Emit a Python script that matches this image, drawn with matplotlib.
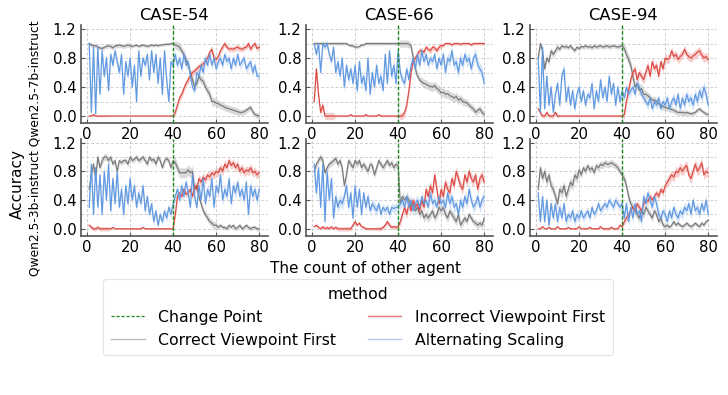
import numpy as np
import matplotlib
matplotlib.use("Agg")
import matplotlib.pyplot as plt
from matplotlib.lines import Line2D
from matplotlib.ticker import MultipleLocator

plt.rcParams['font.family'] = ['DejaVu Sans']

x_vals = np.arange(1, 81)
change_point = 40
cases = ["CASE-54", "CASE-66", "CASE-94"]
models = ["Qwen2.5-7b-instruct", "Qwen2.5-3b-instruct"]
methods = ["Correct Viewpoint First", "Incorrect Viewpoint First", "Alternating Scaling"]

# ---------------- Qwen2.5-7b-instruct ----------------
correct_7b_54 = [1.0,0.98,0.97,0.97,0.95,0.94,0.93,0.95,0.96,0.97,0.96,0.94,0.97,0.97,0.98,0.97,0.96,0.97,0.98,0.97,
                 0.96,0.97,0.98,0.96,0.97,0.98,0.97,0.96,0.97,0.98,0.97,0.98,0.97,0.98,0.98,0.99,0.99,0.99,1.0,1.0,
                 0.98,0.97,0.95,0.9,0.85,0.78,0.7,0.6,0.5,0.4,0.45,0.55,0.5,0.48,0.4,0.35,0.3,0.2,0.2,0.18,
                 0.17,0.15,0.14,0.12,0.11,0.1,0.09,0.08,0.07,0.06,0.05,0.05,0.06,0.08,0.1,0.12,0.06,0.02,0.01,0.0]
incorrect_7b_54 = [0.0,0.0,0.02,0.0,0.0,0.0,0.0,0.0,0.0,0.0,0.0,0.0,0.0,0.0,0.0,0.0,0.0,0.0,0.0,0.0,
                   0.0,0.0,0.0,0.0,0.0,0.0,0.0,0.0,0.0,0.0,0.0,0.0,0.0,0.0,0.0,0.0,0.0,0.0,0.0,0.0,
                   0.05,0.15,0.25,0.3,0.38,0.45,0.5,0.55,0.6,0.62,0.65,0.68,0.7,0.72,0.75,0.8,0.88,0.92,0.8,0.78,
                   0.82,0.9,0.95,1.0,0.95,0.92,0.93,0.92,0.94,0.95,0.93,0.92,0.94,0.95,1.0,0.92,0.97,1.0,0.93,0.95]
altern_7b_54 = [1.0,0.05,0.95,0.03,0.95,0.3,0.9,0.55,0.8,0.35,0.85,0.7,0.9,0.75,0.6,0.85,0.3,0.75,0.55,0.8,
                0.4,0.7,0.2,0.9,0.55,0.8,0.7,0.85,0.5,0.9,0.6,0.85,0.45,0.8,0.3,0.9,0.5,0.2,0.75,0.7,
                0.85,0.7,0.8,0.65,0.85,0.7,0.75,0.55,0.4,0.35,0.6,0.55,0.7,0.6,0.8,0.7,0.85,0.7,0.8,0.65,
                0.75,0.8,0.7,0.85,0.75,0.8,0.65,0.8,0.7,0.85,0.7,0.75,0.8,0.65,0.7,0.75,0.6,0.7,0.55,0.55]

correct_7b_66 = [1.0,1.0,1.0,1.0,1.0,1.0,1.0,1.0,1.0,1.0,1.0,1.0,1.0,1.0,1.0,1.0,0.98,0.97,0.97,0.95,
                 0.95,0.96,0.98,0.98,1.0,1.0,1.0,1.0,1.0,1.0,1.0,1.0,1.0,1.0,1.0,1.0,1.0,1.0,1.0,1.0,
                 1.0,1.0,1.0,1.0,0.99,0.97,0.8,0.65,0.55,0.5,0.47,0.45,0.44,0.42,0.41,0.4,0.42,0.38,0.36,0.32,
                 0.33,0.3,0.31,0.28,0.27,0.25,0.27,0.22,0.24,0.2,0.19,0.18,0.15,0.12,0.1,0.05,0.08,0.1,0.05,0.02]
incorrect_7b_66 = [0.2,0.65,0.3,0.05,0.15,0.0,0.0,0.0,0.0,0.0,0.0,0.0,0.0,0.0,0.0,0.0,0.0,0.02,0.0,0.0,
                   0.0,0.0,0.0,0.0,0.02,0.0,0.0,0.0,0.0,0.0,0.02,0.0,0.0,0.0,0.0,0.0,0.0,0.0,0.0,0.0,
                   0.0,0.0,0.05,0.15,0.35,0.6,0.75,0.8,0.85,0.9,0.9,0.88,0.95,0.92,0.9,0.95,0.94,0.9,0.95,0.97,
                   0.97,1.0,1.0,1.0,0.98,1.0,1.0,1.0,0.99,1.0,1.0,1.0,1.0,0.98,1.0,1.0,1.0,1.0,1.0,1.0]
altern_7b_66 = [1.0,0.85,1.0,0.6,1.0,0.95,1.0,0.85,0.75,0.95,0.6,0.75,0.55,0.8,0.4,0.7,0.5,0.65,0.45,0.7,
                0.35,0.75,0.45,0.55,0.35,0.8,0.3,0.6,0.4,0.7,0.45,0.55,0.35,0.85,0.45,0.9,0.55,0.7,0.45,0.9,
                0.6,0.5,0.45,0.65,0.5,0.7,0.8,0.65,0.85,0.7,0.9,0.75,0.85,0.7,0.8,0.75,0.85,0.65,0.8,0.7,
                0.85,0.6,0.8,0.75,0.9,0.7,0.75,0.6,0.8,0.7,0.85,0.75,0.8,0.65,0.8,0.85,0.7,0.65,0.6,0.45]

correct_7b_94 = [0.8,1.0,0.9,0.65,0.8,0.75,0.9,0.85,0.9,0.95,0.92,0.97,0.95,0.96,0.94,0.97,0.93,0.9,0.95,0.93,
                 0.96,0.95,0.97,0.95,0.96,0.94,0.97,0.95,0.96,0.97,0.95,0.96,0.97,0.95,0.96,0.97,0.96,0.95,0.96,0.97,
                 0.93,0.85,0.78,0.7,0.55,0.4,0.45,0.35,0.38,0.3,0.3,0.28,0.25,0.22,0.22,0.2,0.17,0.15,0.13,0.12,
                 0.11,0.1,0.09,0.08,0.06,0.05,0.05,0.05,0.04,0.05,0.04,0.03,0.04,0.05,0.08,0.1,0.07,0.05,0.03,0.02]
incorrect_7b_94 = [0.1,0.05,0.0,0.0,0.05,0.0,0.0,0.0,0.05,0.0,0.0,0.0,0.0,0.0,0.0,0.0,0.0,0.0,0.0,0.0,
                   0.0,0.0,0.0,0.0,0.0,0.0,0.0,0.0,0.0,0.0,0.0,0.0,0.0,0.0,0.0,0.0,0.0,0.0,0.0,0.0,
                   0.02,0.2,0.35,0.5,0.6,0.65,0.5,0.6,0.55,0.5,0.6,0.7,0.55,0.75,0.65,0.7,0.55,0.75,0.65,0.8,
                   0.78,0.8,0.9,0.82,0.85,0.78,0.82,0.85,0.92,0.85,0.82,0.8,0.83,0.85,0.88,0.9,0.84,0.8,0.82,0.78]
altern_7b_94 = [0.8,0.05,0.95,0.1,0.55,0.15,0.4,0.05,0.3,0.45,0.15,0.55,0.65,0.2,0.4,0.15,0.35,0.1,0.3,0.4,
                0.2,0.35,0.15,0.3,0.25,0.45,0.1,0.35,0.2,0.5,0.25,0.4,0.2,0.55,0.3,0.45,0.15,0.4,0.2,0.35,
                0.25,0.4,0.3,0.35,0.4,0.3,0.45,0.4,0.3,0.25,0.2,0.15,0.25,0.1,0.2,0.15,0.25,0.1,0.2,0.15,
                0.25,0.1,0.2,0.25,0.15,0.3,0.1,0.25,0.15,0.3,0.2,0.25,0.15,0.3,0.2,0.35,0.25,0.4,0.3,0.15]

# ---------------- Qwen2.5-3b-instruct ----------------
correct_3b_54 = [0.55,0.75,0.9,0.7,1.0,0.85,0.95,1.0,1.0,0.95,1.0,0.9,0.95,0.8,0.95,0.92,0.95,0.95,0.9,1.0,
                 0.95,0.97,1.0,0.95,0.97,1.0,0.95,0.9,1.0,0.95,0.97,0.9,1.0,0.95,0.85,0.95,0.98,0.95,0.85,0.95,
                 0.92,0.85,0.78,0.78,0.78,0.78,0.82,0.78,0.8,0.55,0.6,0.45,0.35,0.25,0.2,0.15,0.1,0.08,0.05,0.05,
                 0.02,0.05,0.02,0.02,0.0,0.05,0.02,0.05,0.0,0.02,0.05,0.0,0.02,0.05,0.02,0.0,0.02,0.02,0.0,0.0]
incorrect_3b_54 = [0.05,0.02,0.0,0.0,0.02,0.0,0.0,0.0,0.0,0.0,0.0,0.02,0.0,0.0,0.0,0.0,0.0,0.0,0.0,0.0,
                   0.0,0.0,0.0,0.0,0.0,0.02,0.0,0.0,0.0,0.0,0.0,0.0,0.0,0.0,0.0,0.0,0.0,0.0,0.0,0.0,
                   0.2,0.45,0.5,0.45,0.55,0.48,0.5,0.55,0.45,0.6,0.55,0.7,0.65,0.72,0.68,0.75,0.72,0.78,0.75,0.8,
                   0.78,0.85,0.8,0.9,0.85,0.95,0.88,0.92,0.85,0.9,0.8,0.85,0.78,0.82,0.8,0.85,0.78,0.8,0.75,0.78]
altern_3b_54 = [0.3,0.9,0.2,0.85,0.3,0.75,0.2,0.8,0.4,0.9,0.25,0.7,0.35,0.8,0.3,0.55,0.2,0.6,0.35,0.7,
                0.4,0.6,0.3,0.5,0.35,0.6,0.25,0.45,0.2,0.35,0.1,0.25,0.05,0.2,0.1,0.25,0.15,0.3,0.2,0.35,
                0.45,0.55,0.4,0.6,0.45,0.65,0.5,0.3,0.75,0.45,0.3,0.6,0.4,0.7,0.35,0.55,0.45,0.7,0.3,0.6,
                0.5,0.75,0.4,0.55,0.45,0.7,0.35,0.6,0.5,0.65,0.45,0.55,0.4,0.65,0.2,0.6,0.45,0.55,0.4,0.55]

correct_3b_66 = [0.8,0.9,0.95,1.0,0.95,0.78,0.85,0.9,0.92,0.95,0.98,0.9,0.95,0.85,0.6,0.75,0.95,0.9,0.85,0.95,
                 0.9,0.95,0.85,0.9,0.85,0.8,0.9,0.88,0.75,0.85,0.95,0.9,0.85,0.9,0.95,0.88,0.92,0.85,0.9,0.88,
                 0.35,0.45,0.4,0.45,0.4,0.3,0.35,0.25,0.3,0.2,0.25,0.15,0.2,0.15,0.2,0.25,0.15,0.2,0.3,0.25,
                 0.3,0.2,0.15,0.25,0.2,0.15,0.1,0.2,0.05,0.1,0.15,0.1,0.2,0.15,0.1,0.08,0.05,0.08,0.05,0.15]
incorrect_3b_66 = [0.03,0.05,0.02,0.0,0.03,0.0,0.02,0.0,0.03,0.0,0.02,0.0,0.0,0.0,0.0,0.0,0.0,0.0,0.05,0.1,
                   0.05,0.08,0.03,0.02,0.0,0.0,0.0,0.0,0.0,0.0,0.0,0.0,0.02,0.05,0.1,0.05,0.02,0.03,0.02,0.03,
                   0.1,0.2,0.3,0.2,0.35,0.25,0.4,0.3,0.35,0.25,0.4,0.3,0.55,0.45,0.6,0.5,0.75,0.55,0.35,0.55,
                   0.45,0.65,0.55,0.5,0.7,0.6,0.8,0.7,0.6,0.55,0.75,0.65,0.8,0.7,0.65,0.75,0.55,0.7,0.75,0.65]
altern_3b_66 = [0.9,0.5,0.85,0.3,0.9,0.1,0.8,0.4,0.7,0.15,0.45,0.3,0.4,0.35,0.45,0.6,0.3,0.5,0.15,0.6,
                0.3,0.55,0.2,0.5,0.3,0.45,0.25,0.35,0.3,0.25,0.35,0.2,0.3,0.25,0.3,0.2,0.3,0.28,0.3,0.3,
                0.35,0.4,0.3,0.45,0.3,0.4,0.25,0.35,0.4,0.3,0.45,0.35,0.4,0.3,0.5,0.35,0.4,0.3,0.45,0.35,
                0.4,0.3,0.5,0.35,0.45,0.3,0.35,0.2,0.4,0.3,0.45,0.35,0.55,0.4,0.3,0.35,0.45,0.3,0.4,0.45]

correct_3b_94 = [0.55,0.85,0.7,0.8,0.65,0.75,0.6,0.55,0.45,0.35,0.55,0.5,0.6,0.45,0.55,0.65,0.6,0.75,0.7,0.82,
                 0.75,0.85,0.8,0.88,0.82,0.85,0.78,0.88,0.85,0.9,0.88,0.92,0.9,0.9,0.92,0.9,0.88,0.85,0.8,0.75,
                 0.7,0.6,0.45,0.35,0.3,0.25,0.2,0.15,0.25,0.2,0.3,0.25,0.2,0.15,0.25,0.2,0.1,0.15,0.05,0.03,
                 0.05,0.02,0.05,0.1,0.05,0.08,0.05,0.03,0.05,0.08,0.05,0.03,0.05,0.08,0.05,0.03,0.08,0.05,0.1,0.12]
incorrect_3b_94 = [0.0,0.0,0.03,0.0,0.0,0.02,0.0,0.0,0.0,0.03,0.0,0.0,0.0,0.0,0.02,0.0,0.0,0.0,0.0,0.03,
                   0.0,0.0,0.0,0.0,0.02,0.0,0.0,0.0,0.0,0.03,0.0,0.0,0.0,0.0,0.02,0.0,0.0,0.0,0.05,0.03,
                   0.1,0.15,0.2,0.25,0.3,0.25,0.35,0.3,0.25,0.35,0.4,0.38,0.45,0.4,0.45,0.5,0.45,0.55,0.5,0.6,
                   0.65,0.7,0.75,0.72,0.8,0.78,0.85,0.8,0.85,0.88,0.75,0.7,0.8,0.9,0.8,0.85,0.92,0.75,0.8,0.78]
altern_3b_94 = [0.5,0.1,0.45,0.1,0.4,0.05,0.35,0.15,0.35,0.1,0.3,0.15,0.35,0.1,0.2,0.15,0.25,0.1,0.2,0.15,
                0.25,0.15,0.2,0.25,0.15,0.3,0.2,0.25,0.35,0.25,0.3,0.35,0.3,0.4,0.35,0.3,0.4,0.35,0.3,0.35,
                0.15,0.35,0.1,0.3,0.15,0.35,0.2,0.25,0.1,0.45,0.35,0.5,0.4,0.3,0.45,0.35,0.2,0.15,0.25,0.2,
                0.1,0.25,0.15,0.3,0.2,0.15,0.25,0.2,0.3,0.25,0.35,0.2,0.4,0.25,0.3,0.2,0.35,0.25,0.4,0.2]

# band half-widths (per block of 10 counts)
spread_correct = {
    (0, 0): [0.03, 0.03, 0.02, 0.02, 0.06, 0.06, 0.05, 0.04],
    (0, 1): [0.02, 0.02, 0.02, 0.02, 0.05, 0.06, 0.06, 0.05],
    (0, 2): [0.05, 0.03, 0.03, 0.03, 0.07, 0.05, 0.04, 0.03],
    (1, 0): [0.05, 0.04, 0.04, 0.04, 0.07, 0.05, 0.03, 0.03],
    (1, 1): [0.05, 0.05, 0.05, 0.05, 0.06, 0.06, 0.06, 0.05],
    (1, 2): [0.07, 0.07, 0.05, 0.05, 0.06, 0.05, 0.03, 0.03],
}
spread_incorrect = {
    (0, 0): [0.01, 0.0, 0.0, 0.0, 0.05, 0.05, 0.04, 0.04],
    (0, 1): [0.05, 0.01, 0.01, 0.01, 0.05, 0.04, 0.02, 0.02],
    (0, 2): [0.03, 0.01, 0.01, 0.01, 0.06, 0.06, 0.06, 0.06],
    (1, 0): [0.03, 0.01, 0.01, 0.01, 0.05, 0.06, 0.06, 0.06],
    (1, 1): [0.02, 0.03, 0.02, 0.03, 0.06, 0.07, 0.07, 0.07],
    (1, 2): [0.01, 0.01, 0.01, 0.02, 0.05, 0.05, 0.07, 0.07],
}
spread_altern = {
    (0, 0): [0.06, 0.06, 0.06, 0.06, 0.06, 0.06, 0.06, 0.06],
    (0, 1): [0.05, 0.07, 0.08, 0.07, 0.07, 0.06, 0.08, 0.08],
    (0, 2): [0.07, 0.07, 0.06, 0.06, 0.06, 0.06, 0.07, 0.08],
    (1, 0): [0.08, 0.08, 0.07, 0.06, 0.07, 0.07, 0.08, 0.08],
    (1, 1): [0.1, 0.09, 0.07, 0.06, 0.08, 0.07, 0.08, 0.08],
    (1, 2): [0.08, 0.07, 0.06, 0.06, 0.08, 0.07, 0.07, 0.07],
}

data = {
    (0, 0): (correct_7b_54, incorrect_7b_54, altern_7b_54),
    (0, 1): (correct_7b_66, incorrect_7b_66, altern_7b_66),
    (0, 2): (correct_7b_94, incorrect_7b_94, altern_7b_94),
    (1, 0): (correct_3b_54, incorrect_3b_54, altern_3b_54),
    (1, 1): (correct_3b_66, incorrect_3b_66, altern_3b_66),
    (1, 2): (correct_3b_94, incorrect_3b_94, altern_3b_94),
}

colors = ["#7a7a7a", "#dc4b45", "#629ae2"]
band_colors = ["#bdbdbd", "#f0a8a5", "#b7d0f3"]
cp_color = "#1a8a1a"

W, H = 728, 395
fig = plt.figure(figsize=(W / 100, H / 100), dpi=100)

lefts = [80.7, 305.7, 529.7]
ax_w = 187.0
rows = [(25.4, 123.3), (139.0, 236.0)]

for r in range(2):
    for c in range(3):
        top, bot = rows[r]
        ax = fig.add_axes([lefts[c] / W, 1 - bot / H, ax_w / W, (bot - top) / H])
        series = data[(r, c)]
        spreads = (spread_correct[(r, c)], spread_incorrect[(r, c)], spread_altern[(r, c)])
        ax.axvline(change_point, color=cp_color, ls=(0, (2.5, 1.5)), lw=1.0, zorder=5)
        for k in range(3):
            y = np.array(series[k])
            s = np.repeat(spreads[k], 10)
            ax.fill_between(x_vals, np.clip(y - s, -0.05, 1.05), np.clip(y + s, -0.05, 1.05),
                            color=band_colors[k], alpha=0.55, lw=0, zorder=2)
        for k in [0, 1, 2]:
            ax.plot(x_vals, series[k], color=colors[k], lw=0.9, zorder=3)
        ax.set_xlim(-2.95, 83.95)
        ax.set_ylim(-0.1, 1.25)
        ax.set_xticks([0, 20, 40, 60, 80])
        ax.set_yticks([0.0, 0.4, 0.8, 1.2])
        ax.yaxis.set_minor_locator(MultipleLocator(0.2))
        ax.grid(True, which='major', ls=(0, (3, 2)), color='#cfcfcf', lw=0.7, zorder=0)
        ax.grid(True, which='minor', axis='y', ls=(0, (3, 2)), color='#cfcfcf', lw=0.7, zorder=0)
        ax.tick_params(which='minor', length=0)
        ax.tick_params(which='major', direction='in', length=3, labelsize=10.7, pad=3,
                       color='#555555')
        for sp in ['top', 'right']:
            ax.spines[sp].set_visible(False)
        for sp in ['left', 'bottom']:
            ax.spines[sp].set_color('#555555')
            ax.spines[sp].set_linewidth(1.2)
        ax.set_axisbelow(True)
        if r == 0:
            ax.set_title(cases[c], fontsize=11.8, pad=4)

fig.text(17 / W, 1 - 184 / H, "Accuracy", rotation=90, ha='center', va='center', fontsize=11)
fig.text(35 / W, 1 - 148 / H, models[1] + " " + models[0], rotation=90,
         ha='center', va='center', fontsize=8.8)
fig.text(366 / W, 1 - 268 / H, "The count of other agent", ha='center', va='center', fontsize=11)

handles = [
    Line2D([], [], color=cp_color, ls=(0, (2.5, 1.5)), lw=0.9),
    Line2D([], [], color=colors[0], lw=1.0, alpha=0.5),
    Line2D([], [], color=colors[1], lw=1.0, alpha=0.75),
    Line2D([], [], color=colors[2], lw=1.0, alpha=0.5),
]
labels = ["Change Point", methods[0], methods[1], methods[2]]
leg = fig.legend(handles, labels, title="method", ncol=2, loc='upper center',
                 bbox_to_anchor=(358 / W, 1 - 279 / H), borderaxespad=0.0,
                 fontsize=11.3, title_fontsize=11.3,
                 frameon=True, fancybox=True, handlelength=2.15, handletextpad=0.85,
                 columnspacing=2.0, borderpad=0.5, labelspacing=0.5)
leg.get_frame().set_edgecolor('#dddddd')
leg.get_frame().set_linewidth(0.8)

fig.savefig("out.png", dpi=100)
